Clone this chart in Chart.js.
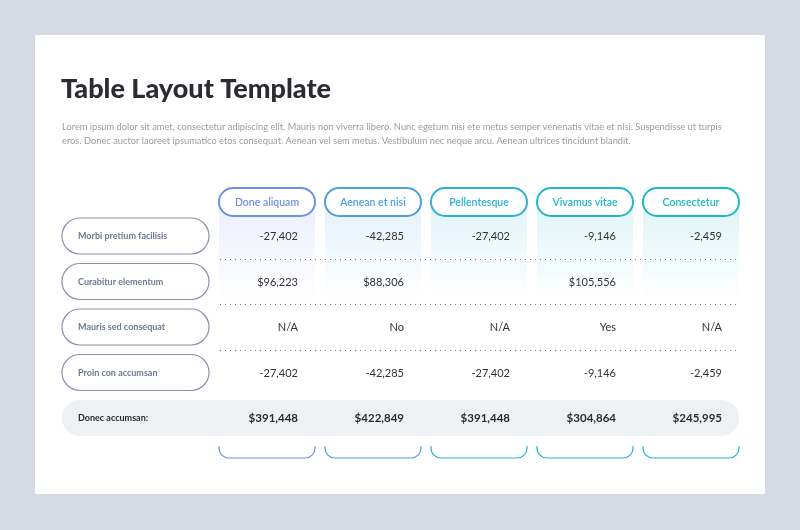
<!DOCTYPE html>
<html><head><meta charset="utf-8">
<script src="https://cdn.jsdelivr.net/npm/chart.js@4/dist/chart.umd.min.js"></script>
<style>html,body{margin:0;padding:0;background:#d5dae3}canvas{display:block}</style>
</head><body>
<div style="width:800px;height:530px"><canvas id="myChart"></canvas></div>
<script>
const columns = ["Done aliquam", "Aenean et nisi", "Pellentesque", "Vivamus vitae", "Consectetur"];
const rows = ["Morbi pretium facilisis", "Curabitur elementum", "Mauris sed consequat", "Proin con accumsan"];
const totalLabel = "Donec accumsan:";
const row1 = ["-27,402", "-42,285", "-27,402", "-9,146", "-2,459"];
const row2 = ["$96,223", "$88,306", "", "$105,556", ""];
const row3 = ["N/A", "No", "N/A", "Yes", "N/A"];
const row4 = ["-27,402", "-42,285", "-27,402", "-9,146", "-2,459"];
const totals = ["$391,448", "$422,849", "$391,448", "$304,864", "$245,995"];
const colColors = ["#7090e8", "#4aa0e0", "#2cb0d8", "#22b6cc", "#1cbac4"];
const title = "Table Layout Template";
const para = ["Lorem ipsum dolor sit amet, consectetur adipiscing elit. Mauris non viverra libero. Nunc egetum nisi ete metus semper venenatis vitae et nisi. Suspendisse ut turpis",
  "eros. Donec auctor laoreet ipsumatico etos consequat. Aenean vel sem metus. Vestibulum nec neque arcu. Aenean ultrices tincidunt blandit."];

const cells = [row1, row2, row3, row4];
const points = [];
cells.forEach((r, j) => r.forEach((v, i) => points.push({ x: i, y: j, t: v })));

function rr(ctx, x, y, w, h, r) {
  ctx.beginPath(); ctx.roundRect(x, y, w, h, r);
}

const tablePlugin = {
  id: "table",
  beforeDraw(chart) {
    const { ctx } = chart;
    ctx.save();
    ctx.fillStyle = "#d5dae3"; ctx.fillRect(0, 0, 800, 530);
    ctx.fillStyle = "#fff"; ctx.fillRect(35, 35, 730, 459);
    ctx.fillStyle = "#2b2c33"; ctx.font = "900 27px Lato";
    ctx.fillText(title, 61, 98);
    ctx.fillStyle = "#9a9ca3"; ctx.font = "9.3px Lato";
    ctx.fillText(para[0], 62, 130); ctx.fillText(para[1], 62, 144);
    ctx.restore();
  },
  afterDatasetsDraw(chart) {
    const { ctx, scales: { x, y } } = chart;
    const w = 96;
    ctx.save();
    // column tint
    columns.forEach((c, i) => {
      const cx = x.getPixelForValue(i);
      const g = ctx.createLinearGradient(0, 210, 0, 300);
      g.addColorStop(0, colColors[i] + "22"); g.addColorStop(1, colColors[i] + "00");
      ctx.fillStyle = g; ctx.fillRect(cx - w / 2, 205, w, 95);
    });
    // dotted separators
    ctx.strokeStyle = "#777"; ctx.lineWidth = 1; ctx.setLineDash([1, 4]);
    for (let j = 0; j < rows.length - 1; j++) {
      const yy = Math.round(y.getPixelForValue(j + 0.5)) + 0.5;
      ctx.beginPath(); ctx.moveTo(220, yy); ctx.lineTo(740, yy); ctx.stroke();
    }
    ctx.setLineDash([]);
    // headers
    ctx.textAlign = "center"; ctx.textBaseline = "middle";
    columns.forEach((c, i) => {
      const cx = x.getPixelForValue(i);
      rr(ctx, cx - w / 2, 188, w, 28, 14);
      ctx.fillStyle = "#fff"; ctx.fill();
      ctx.strokeStyle = colColors[i]; ctx.lineWidth = 2; ctx.stroke();
      ctx.fillStyle = colColors[i]; ctx.font = "600 10.5px Lato";
      ctx.fillText(c, cx, 202.5);
      ctx.beginPath();
      ctx.moveTo(cx - w / 2, 446); ctx.lineTo(cx - w / 2, 448);
      ctx.arcTo(cx - w / 2, 458, cx - w / 2 + 10, 458, 10);
      ctx.lineTo(cx + w / 2 - 10, 458);
      ctx.arcTo(cx + w / 2, 458, cx + w / 2, 448, 10);
      ctx.lineTo(cx + w / 2, 446);
      ctx.lineWidth = 1.2; ctx.stroke();
    });
    // row labels
    rows.forEach((r, j) => {
      const cy = y.getPixelForValue(j);
      rr(ctx, 62, cy - 18, 147, 36, 18);
      ctx.strokeStyle = "#8792a8"; ctx.lineWidth = 1.2; ctx.stroke();
      ctx.fillStyle = "#6e7a92"; ctx.font = "bold 9px Lato"; ctx.textAlign = "left";
      ctx.fillText(r, 78, cy + 0.5);
    });
    // total band
    const ty = y.getPixelForValue(4);
    rr(ctx, 62, ty - 18, 677, 36, 18);
    ctx.fillStyle = "#eef0f3"; ctx.fill();
    ctx.fillStyle = "#2b2c33"; ctx.font = "bold 9px Lato"; ctx.textAlign = "left";
    ctx.fillText(totalLabel, 78, ty + 0.5);
    // values
    ctx.textAlign = "right";
    points.forEach(p => {
      ctx.fillStyle = "#333"; ctx.font = "11px Lato";
      ctx.fillText(p.t, x.getPixelForValue(p.x) + 31, y.getPixelForValue(p.y) + 0.5);
    });
    totals.forEach((t, i) => {
      ctx.fillStyle = "#2b2c33"; ctx.font = "bold 11.5px Lato";
      ctx.fillText(t, x.getPixelForValue(i) + 31, ty + 0.5);
    });
    ctx.restore();
  }
};

new Chart(document.getElementById("myChart"), {
  type: "scatter",
  data: { datasets: [{ data: points, pointRadius: 0 }] },
  options: {
    responsive: true, maintainAspectRatio: false, animation: false,
    layout: { padding: { left: 267, right: 109, top: 236, bottom: 112 } },
    plugins: { legend: { display: false }, tooltip: { enabled: false } },
    scales: {
      x: { type: "linear", min: 0, max: 4, display: false },
      y: { type: "linear", min: 0, max: 4, reverse: true, display: false }
    }
  },
  plugins: [tablePlugin]
});
</script>
</body></html>
